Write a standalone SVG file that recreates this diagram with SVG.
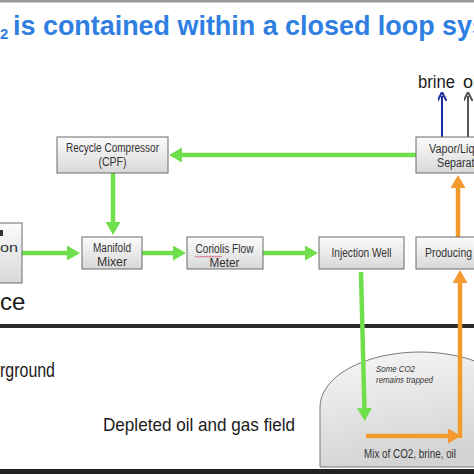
<svg xmlns="http://www.w3.org/2000/svg" width="474" height="474" viewBox="0 0 474 474">
<style>
.box{fill:url(#boxg);stroke:#6a6a6a;stroke-width:1}
.bt{font-family:"Liberation Sans",Arial,sans-serif;font-size:12.5px;fill:#333}
.big{font-family:"Liberation Sans",Arial,sans-serif;fill:#1a1a1a}
.g{stroke:#6fe04c;stroke-width:4.5;fill:none}
.o{stroke:#f29a2e;stroke-width:4.5;fill:none}
</style>
<defs>
<linearGradient id="boxg" x1="0" y1="0" x2="0" y2="1">
<stop offset="0" stop-color="#fcfcfc"/><stop offset="1" stop-color="#d8d8d8"/>
</linearGradient>
<linearGradient id="resg" x1="0" y1="0" x2="0.3" y2="1">
<stop offset="0" stop-color="#f7f7f7"/><stop offset="1" stop-color="#d3d3d3"/>
</linearGradient>
<marker id="ag" markerUnits="userSpaceOnUse" markerWidth="13" markerHeight="15" refX="7" refY="7.5" orient="auto">
<path d="M0,0 L13,7.5 L0,15 z" fill="#6fe04c"/>
</marker>
<marker id="ao" markerUnits="userSpaceOnUse" markerWidth="13" markerHeight="15" refX="7" refY="7.5" orient="auto">
<path d="M0,0 L13,7.5 L0,15 z" fill="#f29a2e"/>
</marker>
<marker id="ab" markerUnits="userSpaceOnUse" markerWidth="9" markerHeight="9" refX="5" refY="4.5" orient="auto">
<path d="M0,0 L9,4.5 L0,9" fill="none" stroke="#1a2f9c" stroke-width="2"/>
</marker>
<marker id="ak" markerUnits="userSpaceOnUse" markerWidth="9" markerHeight="9" refX="5" refY="4.5" orient="auto">
<path d="M0,0 L9,4.5 L0,9" fill="none" stroke="#555" stroke-width="2"/>
</marker>
</defs>
<rect x="0" y="0" width="474" height="474" fill="#fff"/>
<rect x="0" y="0" width="474" height="2.5" fill="#9a9a9a"/>
<g id="title" font-family="'Liberation Sans',Arial,sans-serif" font-weight="bold" fill="#2f7fe3">
<text x="0" y="39" font-size="15">2</text>
<text x="13" y="35" font-size="27" textLength="474" lengthAdjust="spacingAndGlyphs">is contained within a closed loop sys</text>
</g>
<g id="labels">
<text class="big" x="0" y="310" font-size="24">ce</text>
<text class="big" x="0" y="377" font-size="20" textLength="55" lengthAdjust="spacingAndGlyphs">rground</text>
<text class="big" x="103" y="431" font-size="19" textLength="192" lengthAdjust="spacingAndGlyphs">Depleted oil and gas field</text>
<text class="big" x="418" y="88" font-size="18" textLength="37" lengthAdjust="spacingAndGlyphs">brine</text>
<text class="big" x="463" y="88" font-size="18">oil</text>
</g>
<rect x="0" y="324" width="474" height="4" fill="#2b2b2b"/>
<rect x="0" y="469" width="474" height="5" fill="#222"/>
<g id="reservoir">
<path d="M320,467 L320,407 A100,55 0 0 1 520,407 L520,467 Z" fill="url(#resg)" stroke="#7a7a7a" stroke-width="1"/>
<text x="376" y="372" font-family="'Liberation Sans',Arial,sans-serif" font-size="9.5" font-style="italic" fill="#333" textLength="39" lengthAdjust="spacingAndGlyphs">Some CO2</text>
<text x="376" y="383" font-family="'Liberation Sans',Arial,sans-serif" font-size="9.5" font-style="italic" fill="#333" textLength="57" lengthAdjust="spacingAndGlyphs">remains trapped</text>
<text x="364" y="458" class="bt" textLength="92" lengthAdjust="spacingAndGlyphs">Mix of CO2, brine, oil</text>
</g>
<g id="connectors">
<line class="g" x1="22" y1="253" x2="74" y2="253" marker-end="url(#ag)"/>
<line class="g" x1="113" y1="173" x2="113" y2="229" marker-end="url(#ag)"/>
<line class="g" x1="142" y1="253" x2="180" y2="253" marker-end="url(#ag)"/>
<line class="g" x1="263" y1="253" x2="312" y2="253" marker-end="url(#ag)"/>
<line class="g" x1="416" y1="155" x2="175" y2="155" marker-end="url(#ag)"/>
<line class="g" x1="361" y1="272" x2="364.6" y2="415" marker-end="url(#ag)"/>
<line class="o" x1="366" y1="436" x2="455" y2="436" marker-end="url(#ao)"/>
<line class="o" x1="460" y1="438" x2="460" y2="276" marker-end="url(#ao)"/>
<line class="o" x1="458" y1="237" x2="458" y2="181" marker-end="url(#ao)"/>
<line x1="442" y1="137" x2="442" y2="96" stroke="#1a2f9c" stroke-width="2" marker-end="url(#ab)"/>
<line x1="468" y1="137" x2="468" y2="96" stroke="#555" stroke-width="2" marker-end="url(#ak)"/>
</g>
<g id="source">
<rect class="box" x="-40" y="223" width="62" height="60"/>
<rect x="0" y="230" width="3" height="6" fill="#333"/>
<text class="bt" x="0" y="252" textLength="18" lengthAdjust="spacingAndGlyphs">on</text>
</g>
<g id="recycle-compressor">
<rect class="box" x="57" y="137" width="111" height="36"/>
<text class="bt" x="112.5" y="152" text-anchor="middle" textLength="93" lengthAdjust="spacingAndGlyphs">Recycle Compressor</text>
<text class="bt" x="112.5" y="166" text-anchor="middle" textLength="28" lengthAdjust="spacingAndGlyphs">(CPF)</text>
</g>
<g id="manifold-mixer">
<rect class="box" x="82" y="237" width="60" height="32"/>
<text class="bt" x="112" y="252" text-anchor="middle" textLength="38" lengthAdjust="spacingAndGlyphs">Manifold</text>
<text class="bt" x="112" y="266" text-anchor="middle" textLength="30" lengthAdjust="spacingAndGlyphs">Mixer</text>
</g>
<g id="coriolis">
<rect class="box" x="187" y="237" width="76" height="32"/>
<text class="bt" x="224.5" y="253" text-anchor="middle" textLength="58" lengthAdjust="spacingAndGlyphs">Coriolis Flow</text>
<text class="bt" x="224.5" y="267" text-anchor="middle" textLength="30" lengthAdjust="spacingAndGlyphs">Meter</text>
<path d="M195,256 l1.5,1.2 l1.5,-1.2 l1.5,1.2 l1.5,-1.2 l1.5,1.2 l1.5,-1.2 l1.5,1.2 l1.5,-1.2 l1.5,1.2 l1.5,-1.2 l1.5,1.2 l1.5,-1.2 l1.5,1.2 l1.5,-1.2 l1.5,1.2 l1.5,-1.2 l1.5,1.2 l1.5,-1.2" fill="none" stroke="#d0406a" stroke-width="0.8"/>
</g>
<g id="injection-well">
<rect class="box" x="319" y="237" width="85" height="32"/>
<text class="bt" x="361.5" y="257" text-anchor="middle" textLength="60" lengthAdjust="spacingAndGlyphs">Injection Well</text>
</g>
<g id="producing-well">
<rect class="box" x="416" y="237" width="90" height="32"/>
<text class="bt" x="425" y="257" textLength="70" lengthAdjust="spacingAndGlyphs">Producing Well</text>
</g>
<g id="separator">
<rect class="box" x="416" y="137" width="90" height="36"/>
<text class="bt" x="429" y="153" textLength="60" lengthAdjust="spacingAndGlyphs">Vapor/Liquid</text>
<text class="bt" x="437" y="167" textLength="47" lengthAdjust="spacingAndGlyphs">Separator</text>
</g>
</svg>
